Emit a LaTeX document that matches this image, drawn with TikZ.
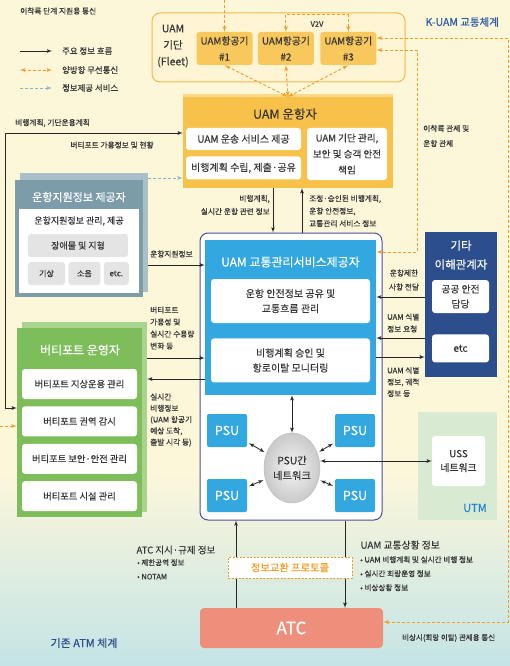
\documentclass[tikz,border=0pt]{standalone}
\usepackage{fontspec}
\setmainfont{Noto Sans CJK KR}[FakeBold=0.3]
\usepackage{tikz}
\usetikzlibrary{shapes, arrows, positioning}

\definecolor{bgcream}{HTML}{FDF7DA}
\definecolor{bgmint}{HTML}{E6F1D8}
\definecolor{bgteal}{HTML}{C4E4E6}
\definecolor{fleetfill}{HTML}{FFF4D4}
\definecolor{fleetedge}{HTML}{F5B849}
\definecolor{acfill}{HTML}{F9C85C}
\definecolor{opfill}{HTML}{F8C24A}
\definecolor{opbackfill}{HTML}{FBD88A}
\definecolor{supfill}{HTML}{7C9CAA}
\definecolor{supbackfill}{HTML}{A9C0C9}
\definecolor{boxgray}{HTML}{E4E4E4}
\definecolor{vpfill}{HTML}{7DBE5B}
\definecolor{vpbackfill}{HTML}{A8D48E}
\definecolor{atmblue}{HTML}{33A8E0}
\definecolor{atmedge}{HTML}{4A4F9D}
\definecolor{shfill}{HTML}{2C4E8C}
\definecolor{utmfill}{HTML}{D9EAD3}
\definecolor{atcfill}{HTML}{EE8F7C}
\definecolor{radioorange}{HTML}{F39C28}
\definecolor{protoorange}{HTML}{F29B1F}
\definecolor{infoblue}{HTML}{8FB3C6}
\definecolor{txt}{HTML}{363636}
\definecolor{kuamblue}{HTML}{2A5CA8}
\definecolor{utmblue}{HTML}{1F86CF}

\tikzstyle{whitebox} = [rectangle, fill=white, rounded corners=3pt, align=center,
    text=txt, inner sep=1pt, font=\fontsize{10}{13}\selectfont]
\tikzstyle{aircraft} = [rectangle, fill=acfill, rounded corners=3pt, align=center,
    minimum width=56pt, minimum height=33pt, inner sep=1pt, text=txt,
    font=\fontsize{9.8}{16}\selectfont]
\tikzstyle{graybox} = [rectangle, fill=boxgray, rounded corners=3pt, minimum height=23pt,
    inner sep=1pt, text=txt, font=\fontsize{8}{10}\selectfont]
\tikzstyle{psu} = [rectangle, fill=atmblue, rounded corners=2pt, minimum width=40pt,
    minimum height=33pt, text=white, font=\fontsize{12.5}{14}\selectfont]
\tikzstyle{title} = [text=white, align=center, font=\fontsize{12}{15}\selectfont]
\tikzstyle{note} = [text=txt, inner sep=0pt, font=\fontsize{7.7}{12}\selectfont]
\tikzstyle{line} = [draw=black!85, line width=0.8pt, -latex']
\tikzstyle{radio} = [draw=radioorange, line width=0.9pt, dash pattern=on 3pt off 2pt,
    latex'-latex']
\tikzstyle{infoline} = [draw=infoblue, line width=0.9pt, dash pattern=on 3pt off 2pt,
    -latex']

\begin{document}
\begin{tikzpicture}[x=1pt, y=-1pt, node distance=7pt]
    % Background
    \useasboundingbox (0,0) rectangle (510,666);
    \fill[bgcream] (0,0) rectangle (510,666);
    \shade[top color=bgcream, middle color=bgmint, bottom color=bgteal] (0,470) rectangle (510,666);

    % Legend
    \node[note, anchor=west] (phase) at (20,11) {이착륙 단계 지원용 통신};
    \coordinate (lg1) at (20,51);
    \coordinate (lg2) at (20,70);
    \coordinate (lg3) at (20,88);
    \node[note, anchor=west, font=\fontsize{8.4}{10}\selectfont] (lgt1) at (62,51) {주요 정보 흐름};
    \node[note, anchor=west, font=\fontsize{8.4}{10}\selectfont] (lgt2) at (62,70) {양방향 무선통신};
    \node[note, anchor=west, font=\fontsize{8.4}{10}\selectfont] (lgt3) at (62,88) {정보제공 서비스};

    % Place nodes
    \node[rectangle, draw=fleetedge, line width=1pt, fill=fleetfill, rounded corners=8pt,
        minimum width=253pt, minimum height=69pt] (fleet) at (278.5,47.5) {};
    \node[text=txt, align=center, font=\fontsize{10.5}{16.5}\selectfont] (fleetname) at (173,46) {UAM\\기단\\(Fleet)};
    \node[aircraft] (ac1) at (224.5,48.5) {UAM항공기\\\#1};
    \node[aircraft, right=5pt of ac1] (ac2) {UAM항공기\\\#2};
    \node[aircraft, right=6pt of ac2] (ac3) {UAM항공기\\\#3};
    \node[note, font=\fontsize{7.5}{9}\selectfont] (v2v) at (317,24) {V2V};
    \node[text=kuamblue, anchor=west, font=\fontsize{10.5}{13}\selectfont] (kuamname) at (422,22) {K-UAM 교통체계};

    \node[rectangle, fill=opbackfill, minimum width=210pt, minimum height=91pt] (opback) at (288,139.5) {};
    \node[rectangle, fill=opfill, minimum width=210pt, minimum height=91pt] (op) at (288,142.5) {};
    \node[title, text=txt, font=\fontsize{12.5}{14}\selectfont] (optitle) at (285,114) {UAM 운항자};
    \node[whitebox, minimum width=115pt, minimum height=22pt] (op1) at (243.5,139) {UAM 운송 서비스 제공};
    \node[whitebox, minimum width=115pt, minimum height=23pt, below=6pt of op1] (op2) {비행계획 수립, 제출·공유};
    \node[whitebox, minimum width=80pt, minimum height=52pt, font=\fontsize{9.6}{16}\selectfont] (op3) at (347,154) {UAM 기단 관리,\\보안 및 승객 안전\\책임};

    \node[rectangle, fill=supbackfill, minimum width=128pt, minimum height=119pt] (supback) at (84,232.5) {};
    \node[rectangle, fill=supfill, minimum width=128pt, minimum height=117pt] (sup) at (79,238.5) {};
    \node[title, font=\fontsize{11}{14}\selectfont] (suptitle) at (79,197) {운항지원정보 제공자};
    \node[rectangle, fill=white, minimum width=120pt, minimum height=84pt] (suppanel) at (79,251) {};
    \node[text=txt, font=\fontsize{9}{11}\selectfont] (supmain) at (79,221) {운항지원정보 관리, 제공};
    \node[graybox, minimum width=100pt, font=\fontsize{9}{11}\selectfont] (obstacle) at (78,245.5) {장애물 및 지형};
    \node[graybox, minimum width=37pt] (weather) at (46.5,273.5) {기상};
    \node[graybox, minimum width=32pt, right=3pt of weather] (noise) {소음};
    \node[graybox, minimum width=25pt, right=3pt of noise] (supetc) {etc.};

    \node[rectangle, fill=vpbackfill, minimum width=125pt, minimum height=190pt] (vpback) at (84.5,417) {};
    \node[rectangle, fill=vpfill, minimum width=125pt, minimum height=189pt] (vp) at (79.5,422.5) {};
    \node[title] (vptitle) at (80,350) {버티포트 운영자};
    \node[whitebox, minimum width=115pt, minimum height=30pt, font=\fontsize{9.3}{11}\selectfont] (vp1) at (79.5,384) {버티포트 지상운용 관리};
    \node[whitebox, minimum width=115pt, minimum height=30pt, font=\fontsize{9.3}{11}\selectfont, below=of vp1] (vp2) {버티포트 권역 감시};
    \node[whitebox, minimum width=115pt, minimum height=30pt, font=\fontsize{9.3}{11}\selectfont, below=of vp2] (vp3) {버티포트 보안·안전 관리};
    \node[whitebox, minimum width=115pt, minimum height=30pt, font=\fontsize{9.3}{11}\selectfont, below=of vp3] (vp4) {버티포트 시설 관리};

    \node[rectangle, draw=atmedge, line width=1pt, fill=white, rounded corners=8pt,
        minimum width=182pt, minimum height=287pt] (atm) at (291,376.5) {};
    \node[rectangle, fill=atmblue, minimum width=171pt, minimum height=155pt] (core) at (290.5,317.5) {};
    \node[title] (coretitle) at (290.5,262) {UAM 교통관리서비스제공자};
    \node[whitebox, minimum width=159pt, minimum height=44pt, font=\fontsize{10}{15}\selectfont] (tm1) at (290.5,301) {운항 안전정보 공유 및\\교통흐름 관리};
    \node[whitebox, minimum width=159pt, minimum height=44pt, font=\fontsize{10}{15}\selectfont, below=15pt of tm1] (tm2) {비행계획 승인 및\\항로이탈 모니터링};

    \node[psu] (psu1) at (227,430.5) {PSU};
    \node[psu] (psu2) at (355,430.5) {PSU};
    \node[psu] (psu3) at (227,495.5) {PSU};
    \node[psu] (psu4) at (355,495.5) {PSU};
    \node[ellipse, minimum width=56pt, minimum height=70pt, inner sep=0pt, inner color=gray!8,
        outer color=gray!42, draw=gray!55, text=txt, align=center,
        font=\fontsize{10.3}{15}\selectfont] (net) at (292,468) {PSU간\\네트워크};

    \node[rectangle, fill=utmfill, minimum width=79pt, minimum height=108pt] (utm) at (457.5,466) {};
    \node[whitebox, minimum width=53pt, minimum height=50pt, font=\fontsize{9.8}{14}\selectfont] (uss) at (458.5,461) {USS\\네트워크};
    \node[text=utmblue, font=\fontsize{11}{13}\selectfont] (utmname) at (475,508) {UTM};

    \node[rectangle, fill=shfill, minimum width=72pt, minimum height=145pt] (sh) at (461,304.5) {};
    \node[title, font=\fontsize{11.5}{19}\selectfont] (shtitle) at (461,255) {기타\\이해관계자};
    \node[whitebox, minimum width=57pt, minimum height=33pt, font=\fontsize{9.8}{15}\selectfont] (safety) at (460.5,296.5) {공공 안전\\담당};
    \node[whitebox, minimum width=57pt, minimum height=28pt, below=21pt of safety] (shetc) {etc};

    \node[rectangle, fill=atcfill, rounded corners=4pt, minimum width=183pt, minimum height=40pt,
        text=white, font=\fontsize{17}{20}\selectfont] (atc) at (291.5,628) {ATC};

    % Draw edges
    \path[line] (lg1) -- ([xshift=-10pt]lgt1.west);
    \path[radio] (lg2) -- ([xshift=-10pt]lgt2.west);
    \path[infoline] (lg3) -- ([xshift=-10pt]lgt3.west);

    \coordinate (sky) at (224.5,0);
    \path[radio, -latex'] (sky) -- (ac1.north);
    \path[radio] (ac2.north) -- ++(0,-17) -| (ac3.north);
    \path[radio] (ac1.south) -- (op.north);
    \path[radio] (ac2.south) -- (op.north);
    \path[radio] (ac3.south) -- (op.north);

    \coordinate (kuam) at (508,38);
    \coordinate (emerg) at (508,622);
    \path[radio] (ac3.east |- kuam) -- (kuam) -- (emerg) -- (atc.east |- emerg);
    \coordinate (ctrl) at (417,50);
    \coordinate (ctrlin) at (417,252);
    \path[radio] (ac3.east |- ctrl) -- (ctrl) -- (ctrlin) -- (core.east |- ctrlin);

    \coordinate (plan) at (5,133);
    \coordinate (planvp) at (5,408);
    \path[line, latex'-latex'] (op.west |- plan) -- (plan) -- (planvp) -- (vp.west |- planvp);
    \coordinate (vpfeed) at (0,426);
    \path[radio, -latex'] (vpfeed) -- (vp.west |- vpfeed);
    \path[infoline] (supback.east |- 0,178) -- (op.west |- 0,178);

    \path[line] (supback.east |- 0,265) -- (core.west |- 0,265);
    \path[line] (vpback.east |- 0,358) -- (core.west |- 0,358);
    \path[line] (core.west |- 0,379) -- (vpback.east |- 0,379);
    \path[line] (op.south -| 273,0) -- (atm.north -| 273,0);
    \path[line] (atm.north -| 302,0) -- (op.south -| 302,0);
    \path[line] (sh.west |- 0,297) -- (core.east |- 0,297);
    \path[line] (sh.west |- 0,338) -- (core.east |- 0,338);
    \path[line] (core.east |- 0,357) -- (sh.west |- 0,357);

    \path[line, latex'-latex'] (net.north) -- (net.north |- core.south);
    \foreach \p in {psu1, psu2, psu3, psu4}
        \path[line, latex'-latex', shorten <=2pt, shorten >=2pt] (\p) -- (net);
    \path[line, latex'-latex'] (net.east |- uss.west) -- (uss.west);

    \path[line] (atc.north -| 236,0) -- (atm.south -| 236,0);
    \path[line] (atm.south -| 345,0) -- (atc.north -| 345,0);

    \node[rectangle, draw=radioorange, line width=0.8pt, dash pattern=on 2pt off 1.5pt, fill=white,
        minimum width=124pt, minimum height=21pt, text=protoorange,
        font=\fontsize{10.3}{12}\selectfont] (proto) at (290,567.5) {정보교환 프로토콜};

    % Flow notes
    \node[note, anchor=west] (plannote) at (15,123) {비행계획, 기단운용계획};
    \node[note] (vpinfo) at (112,145) {버티포트 가용정보 및 현황};
    \node[note, anchor=west] (supnote) at (150,254) {운항지원정보};
    \node[note, anchor=west, align=left] (vpup) at (150,328) {버티포트\\가용성 및\\실시간 수용량\\변화 등};
    \node[note, anchor=west, align=left, font=\fontsize{7.7}{11.3}\selectfont] (vpdown) at (150,420) {실시간\\비행정보\\(UAM 항공기\\예상 도착,\\출발 시각 등)};
    \node[note, anchor=east, align=right, font=\fontsize{7.7}{13}\selectfont] (opdown) at (270,205) {비행계획,\\실시간 운항 관련 정보};
    \node[note, anchor=west, align=left, font=\fontsize{7.7}{12.5}\selectfont] (opup) at (309,211) {조정·승인된 비행계획,\\운항 안전정보,\\교통관리 서비스 정보};
    \node[note, anchor=west, align=left, font=\fontsize{7.7}{15}\selectfont] (ctrlnote) at (423,136) {이착륙 관제 및\\운항 관제};
    \node[note, align=center, font=\fontsize{7.7}{14}\selectfont] (limit) at (404,280) {운항제한\\사항 전달};
    \node[note, anchor=west, align=left] (idreq) at (387,323) {UAM 식별\\정보 요청};
    \node[note, anchor=west, align=left, font=\fontsize{7.7}{11.5}\selectfont] (idinfo) at (387,382) {UAM 식별\\정보, 궤적\\정보 등};

    \node[text=txt, anchor=west, font=\fontsize{9.5}{12}\selectfont] (atcorder) at (133,550) {ATC 지시·규제 정보};
    \node[note, anchor=north west, align=left, font=\fontsize{7.5}{14}\selectfont] (atcitems) at (137,559) {• 제한공역 정보\\• NOTAM};
    \node[text=txt, anchor=west, font=\fontsize{9.8}{12}\selectfont] (uamstate) at (357,545) {UAM 교통상황 정보};
    \node[note, anchor=north west, align=left, font=\fontsize{7.6}{14}\selectfont] (stateitems) at (360,556) {• UAM 비행계획 및 실시간 비행 정보\\• 실시간 회랑운영 정보\\• 비상상황 정보};
    \node[note, anchor=west, font=\fontsize{7.5}{9}\selectfont] (emergnote) at (402,638) {비상시(회랑 이탈) 관제용 통신};
    \node[text=shfill, anchor=east, font=\fontsize{11}{13}\selectfont] (atmname) at (121,643) {기존 ATM 체계};
\end{tikzpicture}
\end{document}
